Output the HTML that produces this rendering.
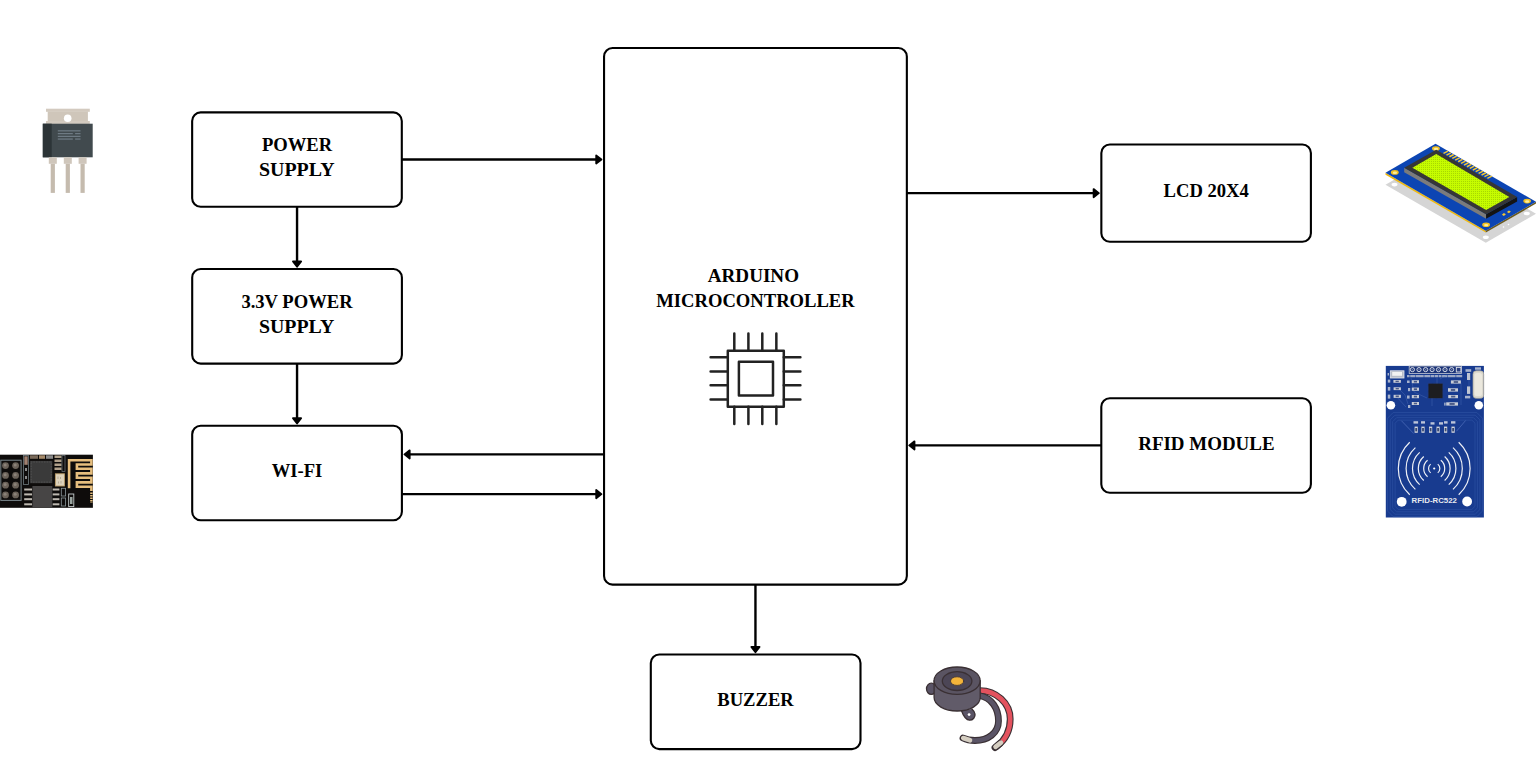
<!DOCTYPE html>
<html><head><meta charset="utf-8">
<style>
html,body{margin:0;padding:0;background:#fff;width:1536px;height:768px;overflow:hidden}
svg{display:block}
.t{font-family:"Liberation Serif",serif;font-weight:bold;font-size:18.6px;fill:#000;text-anchor:middle}
.b{fill:none;stroke:#000;stroke-width:2.1}
.l{stroke:#000;stroke-width:2.4;fill:none}
.ah{fill:#000;stroke:#000;stroke-width:1.8;stroke-linejoin:round}
</style></head><body>
<svg width="1536" height="768" viewBox="0 0 1536 768">
<defs><pattern id="lcdp" x="0" y="0" width="2" height="2" patternUnits="userSpaceOnUse"><rect width="2" height="2" fill="#c6fc00"/><rect x="1" y="1" width="1" height="1" fill="#a8d800"/></pattern></defs>
<!-- boxes -->
<rect class="b" x="192.15" y="112.4" width="209.65" height="94.40" rx="8.5"/>
<rect class="b" x="192.2" y="269.0" width="209.70" height="94.60" rx="8.5"/>
<rect class="b" x="192.2" y="425.75" width="209.70" height="94.45" rx="8.5"/>
<rect class="b" x="604.05" y="47.95" width="302.80" height="536.65" rx="8.5"/>
<rect class="b" x="1101.35" y="144.45" width="209.55" height="97.30" rx="8.5"/>
<rect class="b" x="1101.3" y="398.25" width="209.60" height="94.55" rx="8.5"/>
<rect class="b" x="650.8" y="654.55" width="209.70" height="94.55" rx="8.5"/>
<!-- text -->
<text class="t" x="297" y="150.8">POWER</text>
<text class="t" x="296.8" y="176.3" textLength="75.6" lengthAdjust="spacingAndGlyphs">SUPPLY</text>
<text class="t" x="297" y="307.5">3.3V POWER</text>
<text class="t" x="296.6" y="333.2" textLength="75.4" lengthAdjust="spacingAndGlyphs">SUPPLY</text>
<text class="t" x="297" y="477">WI-FI</text>
<text class="t" x="753.4" y="281.5" textLength="91.2" lengthAdjust="spacingAndGlyphs">ARDUINO</text>
<text class="t" x="755.5" y="307.3">MICROCONTROLLER</text>
<text class="t" x="1206.2" y="196.8">LCD 20X4</text>
<text class="t" x="1206.4" y="449.8" textLength="136.3" lengthAdjust="spacingAndGlyphs">RFID MODULE</text>
<text class="t" x="755.5" y="706">BUZZER</text>
<!-- arrows -->
<line class="l" x1="401.8" y1="159.45" x2="597.30" y2="159.45"/>
<path class="ah" d="M596.20,155.35 L601.46,159.45 L596.20,163.55 Z"/>
<line class="l" x1="297.05" y1="206.8" x2="297.05" y2="262.60"/>
<path class="ah" d="M292.95,261.50 L297.05,266.76 L301.15,261.50 Z"/>
<line class="l" x1="297.05" y1="363.6" x2="297.05" y2="419.30"/>
<path class="ah" d="M292.95,418.20 L297.05,423.46 L301.15,418.20 Z"/>
<line class="l" x1="604" y1="454.4" x2="408.60" y2="454.4"/>
<path class="ah" d="M409.70,450.30 L404.44,454.40 L409.70,458.50 Z"/>
<line class="l" x1="401.9" y1="494.1" x2="597.30" y2="494.1"/>
<path class="ah" d="M596.20,490.00 L601.46,494.10 L596.20,498.20 Z"/>
<line class="l" x1="906.85" y1="193.15" x2="1094.70" y2="193.15"/>
<path class="ah" d="M1093.60,189.05 L1098.86,193.15 L1093.60,197.25 Z"/>
<line class="l" x1="1101.3" y1="445.4" x2="913.40" y2="445.4"/>
<path class="ah" d="M914.50,441.30 L909.24,445.40 L914.50,449.50 Z"/>
<line class="l" x1="755.45" y1="584.6" x2="755.45" y2="648.10"/>
<path class="ah" d="M751.35,647.00 L755.45,652.26 L759.55,647.00 Z"/>
<!-- chip icon -->
<g stroke="#222" stroke-width="2.5" fill="none" stroke-linecap="round" stroke-linejoin="round">
<rect x="727.8" y="350.8" width="56" height="56"/>
<rect x="738.9" y="361.7" width="34.1" height="33.9"/>
<path d="M734.3,333.6V350.8M734.3,406.8V424M748.4,333.6V350.8M748.4,406.8V424M762.3,333.6V350.8M762.3,406.8V424M776.35,333.6V350.8M776.35,406.8V424M710.6,357.3H727.8M783.8,357.3H800.4M710.6,371.4H727.8M783.8,371.4H800.4M710.6,385.3H727.8M783.8,385.3H800.4M710.6,399.6H727.8M783.8,399.6H800.4"/>
</g>
<!-- TO-220 -->
<g>
<rect x="46" y="108.7" width="43.8" height="3.1" fill="#d3cabf"/>
<rect x="47.7" y="111.5" width="40.2" height="10" fill="#cfc6ba"/>
<rect x="46" y="121" width="43.8" height="2.9" fill="#d3cabf"/>
<circle cx="67.7" cy="118.2" r="3.8" fill="#fff"/>
<rect x="42.8" y="123.7" width="49.9" height="33.6" fill="#414a4e"/>
<rect x="42.8" y="123.7" width="8.9" height="33.6" fill="#2c3437"/>
<g fill="#74808a">
<rect x="57.8" y="130.3" width="22.7" height="1.1"/>
<rect x="57.8" y="133.1" width="15" height="1.1"/>
<rect x="75.1" y="133.1" width="5.4" height="1.1"/>
<rect x="57.8" y="135.8" width="22.7" height="1.1"/>
<rect x="57.8" y="138.5" width="15" height="1.1"/>
<rect x="75.1" y="138.5" width="5.4" height="1.1"/>
</g>
<g fill="#cfc6bb">
<rect x="48.8" y="157.3" width="8" height="6.5"/>
<rect x="63.8" y="157.3" width="8" height="6.5"/>
<rect x="78.6" y="157.3" width="8" height="6.5"/>
</g>
<g fill="#c5bbae">
<rect x="50.7" y="163.8" width="4.2" height="29.1"/>
<rect x="65.7" y="163.8" width="4.2" height="29.1"/>
<rect x="80.5" y="163.8" width="4.2" height="29.1"/>
</g>
</g>
<!-- ESP-01 -->
<g>
<rect x="0" y="454.7" width="92.9" height="53.1" fill="#0e0c0b"/>
<rect x="0.8" y="460.2" width="20.3" height="40.2" fill="none" stroke="#7a878c" stroke-width="1"/>
<g fill="#6b6259">
<circle cx="5.5" cy="465.6" r="3.4"/><circle cx="15.6" cy="465.6" r="3.4"/>
<circle cx="5.5" cy="475.4" r="3.4"/><circle cx="15.6" cy="475.4" r="3.4"/>
<circle cx="5.5" cy="485.2" r="3.4"/><circle cx="15.6" cy="485.2" r="3.4"/>
<circle cx="5.5" cy="494.9" r="3.4"/><circle cx="15.6" cy="494.9" r="3.4"/>
</g>
<g fill="#8a8178">
<circle cx="5.1" cy="465" r="1.5"/><circle cx="15.2" cy="465" r="1.5"/>
<circle cx="5.1" cy="474.8" r="1.5"/><circle cx="15.2" cy="474.8" r="1.5"/>
<circle cx="5.1" cy="484.6" r="1.5"/><circle cx="15.2" cy="484.6" r="1.5"/>
<circle cx="5.1" cy="494.3" r="1.5"/><circle cx="15.2" cy="494.3" r="1.5"/>
</g>
<rect x="23.5" y="455.5" width="5" height="29" fill="none" stroke="#6f7a7e" stroke-width="0.8"/>
<rect x="24.3" y="456.3" width="3.4" height="8.5" fill="#a08070"/>
<rect x="25" y="468" width="2" height="3" fill="#8a8a8a"/>
<rect x="25" y="476" width="2" height="3" fill="#8a8a8a"/>
<rect x="30" y="455.3" width="8" height="3.5" fill="#7a6a5a"/>
<rect x="39" y="455.3" width="6" height="3.5" fill="#a58a6a"/>
<rect x="46" y="455.3" width="7" height="3.5" fill="#8a8a8a"/>
<rect x="30.1" y="460.9" width="22.2" height="22.3" fill="#3a3a3a"/>
<rect x="31.2" y="462" width="20" height="20.1" fill="none" stroke="#6a6a6a" stroke-width="0.7" stroke-dasharray="0.7 0.9"/>
<rect x="32.4" y="486" width="19.9" height="21.4" fill="#474545"/>
<g fill="#bdb8b0">
<rect x="24.2" y="488.5" width="7.8" height="2"/><rect x="24.2" y="493.4" width="7.8" height="2"/>
<rect x="24.2" y="498.2" width="7.8" height="2"/><rect x="24.2" y="503.3" width="7.8" height="2"/>
<rect x="52.7" y="488.5" width="6.7" height="2"/><rect x="52.7" y="493.4" width="6.7" height="2"/>
<rect x="52.7" y="498.2" width="6.7" height="2"/><rect x="52.7" y="503.3" width="6.7" height="2"/>
</g>
<g fill="#b0a08a">
<rect x="54.5" y="455.5" width="7" height="2.5"/><rect x="54.5" y="459.5" width="7" height="2.5"/>
<rect x="54.5" y="463.5" width="7" height="2.5"/><rect x="54.5" y="467.5" width="7" height="2.5"/>
</g>
<rect x="62" y="455.5" width="3" height="16" fill="none" stroke="#6f7a7e" stroke-width="0.7"/>
<rect x="55.4" y="473.8" width="9" height="12.2" fill="#ddd2bb" stroke="#b89a66" stroke-width="0.9"/><path d="M58,476.5v2.5M60.5,477v2M58.5,481.5v2M61,481v2.5" stroke="#9a9080" stroke-width="0.6"/>
<rect x="61.3" y="488.3" width="4.3" height="7.7" fill="none" stroke="#8a969a" stroke-width="0.8"/>
<rect x="61.3" y="498" width="4.3" height="8" fill="none" stroke="#8a969a" stroke-width="0.8"/>
<rect x="68.7" y="494" width="5.1" height="12.6" fill="none" stroke="#c8cfcf" stroke-width="0.9"/>
<rect x="70" y="497" width="2.5" height="7" fill="#9aa5a0"/>
<path d="M69.1,488.3 V460.2 H91.4 V464.5 H76.9 V468.75 H91.4 V473.4 H76.9 V477.7 H91.4 V482.4 H76.9 V486.7 H91.4 V491" fill="none" stroke="#e6be7e" stroke-width="2.6"/>
<path d="M91.4,492.5 V503" fill="none" stroke="#e6be7e" stroke-width="2.4" stroke-dasharray="1.6 0.9"/>
</g>
<!-- LCD -->
<g>
<polygon points="1435.5,155.7 1536,213.7 1485.8,242.7 1385.5,184.8" fill="#d5d5d5"/>
<ellipse cx="1394.5" cy="184.6" rx="3" ry="1.8" fill="#fff"/>
<ellipse cx="1485.8" cy="237.2" rx="3" ry="1.8" fill="#fff"/>
<ellipse cx="1526.8" cy="213.5" rx="3" ry="1.8" fill="#fff"/>
<circle cx="1503.5" cy="227" r="0.8" fill="#fff"/><circle cx="1508.5" cy="224.5" r="0.8" fill="#fff"/>
<polygon points="1385.5,172.8 1485.8,230.7 1485.8,232.6 1385.5,174.7" fill="#efb90f"/>
<polygon points="1485.8,230.7 1536,201.7 1536,203.6 1485.8,232.6" fill="#6b5a1c"/>
<polygon points="1435.5,143.7 1536,201.7 1485.8,230.7 1385.5,172.8" fill="#0c45b3"/>
<ellipse cx="1435.9" cy="148.5" rx="3.9" ry="2.3" fill="#f2c020"/><ellipse cx="1436.0" cy="148.9" rx="2.1" ry="1.2" fill="#fbeea0"/><ellipse cx="1394.8" cy="172.4" rx="3.9" ry="2.3" fill="#f2c020"/><ellipse cx="1394.8999999999999" cy="172.8" rx="2.1" ry="1.2" fill="#fbeea0"/><ellipse cx="1486.1" cy="224.7" rx="3.9" ry="2.3" fill="#f2c020"/><ellipse cx="1486.1999999999998" cy="225.1" rx="2.1" ry="1.2" fill="#fbeea0"/><ellipse cx="1527.1" cy="201.1" rx="3.9" ry="2.3" fill="#f2c020"/><ellipse cx="1527.1999999999998" cy="201.5" rx="2.1" ry="1.2" fill="#fbeea0"/>
<path d="M1443.50,153.45L1447.90,151.15M1446.43,155.11L1450.83,152.81M1449.35,156.77L1453.75,154.47M1452.28,158.43L1456.68,156.13M1455.21,160.09L1459.61,157.79M1458.13,161.75L1462.53,159.45M1461.06,163.41L1465.46,161.11M1463.99,165.07L1468.39,162.77M1466.91,166.73L1471.31,164.43M1469.84,168.39L1474.24,166.09M1472.77,170.05L1477.17,167.75M1475.69,171.71L1480.09,169.41M1478.62,173.37L1483.02,171.07M1481.55,175.03L1485.95,172.73M1484.47,176.69L1488.87,174.39M1487.40,178.35L1491.80,176.05" stroke="#f3c632" stroke-width="1.5" fill="none"/>
<polygon points="1404.2,167.7 1486.1,214.2 1486.1,218.8 1404.2,172.3" fill="#7b7b7b"/>
<polygon points="1486.1,214.2 1517.1,196.9 1517.1,201.5 1486.1,218.8" fill="#141414"/>
<polygon points="1436.25,149.7 1517.1,196.9 1486.1,214.2 1404.2,167.7" fill="#363636"/>
<polygon points="1436.25,154 1509.3,196.9 1486.1,210.1 1412.4,167.7" fill="url(#lcdp)"/>
<polygon points="1503.9,213.1 1505.9,214.3 1503.9,215.9 1501.9,214.7" fill="#f3c632"/>
<polygon points="1508.9,210.4 1510.9,211.6 1508.9,213.2 1506.9,212" fill="#f3c632"/>
</g>
<!-- RFID -->
<g>
<rect x="1385.8" y="365.9" width="98.1" height="151.6" fill="#183b8f"/>
<path d="M1387.6,418.1L1393.1,412.6H1476.9L1482.4,418.1V511.1L1476.9,516.6H1393.1L1387.6,511.1ZM1390.2,419.9L1394.9,415.2H1475.2L1479.9,419.9V509.50000000000006L1475.2,514.2H1394.9L1390.2,509.50000000000006ZM1392.7,421.59999999999997L1396.6000000000001,417.7H1473.5L1477.4,421.59999999999997V507.90000000000003L1473.5,511.8H1396.6000000000001L1392.7,507.90000000000003ZM1395.1,423.20000000000005L1398.1999999999998,420.1H1471.9L1475,423.20000000000005V506.29999999999995L1471.9,509.4H1398.1999999999998L1395.1,506.29999999999995Z" fill="none" stroke="#3055a6" stroke-width="0.6"/>
<path d="M1401.4,420.7 L1413.7,433.5 M1456.5,431.2 L1465.6,420.5" stroke="#4a6ab8" stroke-width="0.8"/>
<g fill="#d8dce6" opacity="0.85">
<rect x="1413.5" y="421.2" width="4.6" height="2.4"/><rect x="1421" y="421.2" width="4" height="2.4"/><rect x="1430.5" y="422.2" width="4" height="2.4"/><rect x="1439" y="422.2" width="4" height="2.4"/><rect x="1444" y="421.2" width="3.6" height="2.4"/><rect x="1451" y="421.2" width="4.4" height="2.4"/>
</g>
<rect x="1409.2" y="366" width="52.4" height="7.5" fill="#1c3478" stroke="#c5cad4" stroke-width="0.8"/>
<circle cx="1412.4" cy="369.6" r="2.1" fill="#2a3f80" stroke="#dfe3ea" stroke-width="0.9"/><circle cx="1412.4" cy="369.6" r="0.6" fill="#8090b0"/><circle cx="1419.0" cy="369.6" r="2.1" fill="#2a3f80" stroke="#dfe3ea" stroke-width="0.9"/><circle cx="1419.0" cy="369.6" r="0.6" fill="#8090b0"/><circle cx="1425.6" cy="369.6" r="2.1" fill="#2a3f80" stroke="#dfe3ea" stroke-width="0.9"/><circle cx="1425.6" cy="369.6" r="0.6" fill="#8090b0"/><circle cx="1432.1" cy="369.6" r="2.1" fill="#2a3f80" stroke="#dfe3ea" stroke-width="0.9"/><circle cx="1432.1" cy="369.6" r="0.6" fill="#8090b0"/><circle cx="1438.5" cy="369.6" r="2.1" fill="#2a3f80" stroke="#dfe3ea" stroke-width="0.9"/><circle cx="1438.5" cy="369.6" r="0.6" fill="#8090b0"/><circle cx="1445.0" cy="369.6" r="2.1" fill="#2a3f80" stroke="#dfe3ea" stroke-width="0.9"/><circle cx="1445.0" cy="369.6" r="0.6" fill="#8090b0"/><circle cx="1451.6" cy="369.6" r="2.1" fill="#2a3f80" stroke="#dfe3ea" stroke-width="0.9"/><circle cx="1451.6" cy="369.6" r="0.6" fill="#8090b0"/>
<rect x="1456.3" y="367.4" width="4.6" height="4.6" fill="#2a3f80" stroke="#dfe3ea" stroke-width="0.9"/>
<path d="M1407,376.1 H1462.6" stroke="#c8cdd8" stroke-width="2.2" stroke-dasharray="2.6 0.6 5 0.5 8 0.6 6 0.5 3.2 0.5 3.8 0.6" opacity="0.75"/>
<path d="M1411,378 L1414,392 L1427,398 M1437,378 V384 M1440,379 L1447,375 M1398,388 L1405,395 L1408,404 M1395,395 L1406,407 M1432,398 V406 M1461,383 V405 M1469,380 V386" stroke="#5a78c0" stroke-width="0.5" fill="none" opacity="0.7"/>
<rect x="1428.4" y="383.6" width="14.2" height="14.6" fill="#1d1d20"/>
<rect x="1428" y="383.2" width="15" height="15.4" fill="none" stroke="#3a4470" stroke-width="0.5" stroke-dasharray="0.5 0.7"/>
<rect x="1473" y="370.8" width="10.7" height="27.5" rx="3.4" fill="#dcd9ce" stroke="#a6a398" stroke-width="0.7"/>
<rect x="1474.5" y="373" width="7.5" height="23" rx="2.6" fill="#ebe8de"/>
<rect x="1390.3" y="370.8" width="13.7" height="7.2" fill="#b8bdc8" stroke="#e6e8ee" stroke-width="0.8"/>
<rect x="1392.2" y="372" width="9.8" height="3.8" fill="#f2f2f2"/>
<rect x="1467" y="373" width="3.2" height="7" fill="#c0c6d2"/><rect x="1467" y="386.4" width="3.2" height="7.5" fill="#c0c6d2"/>
<rect x="1393.4" y="380" width="7.50" height="2.80" fill="#c8ccd6"/><rect x="1395.50" y="380.70" width="3.30" height="1.40" fill="#4a5a88"/><rect x="1393.6" y="387.3" width="7.30" height="2.80" fill="#c8ccd6"/><rect x="1395.64" y="388.00" width="3.21" height="1.40" fill="#4a5a88"/><rect x="1393.6" y="394.8" width="7.30" height="3.10" fill="#c8ccd6"/><rect x="1395.64" y="395.50" width="3.21" height="1.70" fill="#4a5a88"/><rect x="1411.8" y="380.2" width="7.20" height="3.00" fill="#c8ccd6"/><rect x="1413.82" y="380.90" width="3.17" height="1.60" fill="#4a5a88"/><rect x="1411.8" y="387.6" width="7.20" height="3.20" fill="#c8ccd6"/><rect x="1413.82" y="388.30" width="3.17" height="1.80" fill="#4a5a88"/><rect x="1411.8" y="395" width="7.20" height="3.20" fill="#c8ccd6"/><rect x="1413.82" y="395.70" width="3.17" height="1.80" fill="#4a5a88"/><rect x="1411.8" y="402" width="7.20" height="3.00" fill="#c8ccd6"/><rect x="1413.82" y="402.70" width="3.17" height="1.60" fill="#4a5a88"/><rect x="1450.9" y="380.4" width="10.00" height="3.20" fill="#c8ccd6"/><rect x="1453.70" y="381.10" width="4.40" height="1.80" fill="#4a5a88"/><rect x="1448" y="388.3" width="10.00" height="3.30" fill="#c8ccd6"/><rect x="1450.80" y="389.00" width="4.40" height="1.90" fill="#4a5a88"/><rect x="1448.4" y="395" width="9.60" height="3.20" fill="#c8ccd6"/><rect x="1451.09" y="395.70" width="4.22" height="1.80" fill="#4a5a88"/><rect x="1446.2" y="402.3" width="11.80" height="3.30" fill="#c8ccd6"/><rect x="1449.50" y="403.00" width="5.19" height="1.90" fill="#4a5a88"/>
<rect x="1387.8" y="379.6" width="2.50" height="3.00" fill="#cdd2dc" opacity="0.8"/><rect x="1387.8" y="387" width="2.50" height="3.60" fill="#cdd2dc" opacity="0.8"/><rect x="1387.8" y="394.6" width="2.50" height="4.00" fill="#cdd2dc" opacity="0.8"/><rect x="1387.6" y="373" width="1.40" height="2.50" fill="#cdd2dc" opacity="0.8"/><rect x="1407" y="380.5" width="2.60" height="2.50" fill="#cdd2dc" opacity="0.8"/><rect x="1408" y="388" width="2.20" height="3.20" fill="#cdd2dc" opacity="0.8"/><rect x="1407" y="395.5" width="2.60" height="3.10" fill="#cdd2dc" opacity="0.8"/><rect x="1408" y="405" width="2.30" height="3.00" fill="#cdd2dc" opacity="0.8"/><rect x="1465.5" y="369.2" width="5.70" height="2.60" fill="#cdd2dc" opacity="0.8"/><rect x="1475" y="367.3" width="6.00" height="2.40" fill="#cdd2dc" opacity="0.8"/><rect x="1465" y="395.8" width="5.20" height="2.60" fill="#cdd2dc" opacity="0.8"/><rect x="1444.2" y="402.6" width="1.40" height="3.00" fill="#cdd2dc" opacity="0.8"/><rect x="1448" y="388.5" width="2.40" height="2.90" fill="#cdd2dc" opacity="0.8"/><rect x="1448.4" y="395.2" width="1.80" height="2.80" fill="#cdd2dc" opacity="0.8"/>
<circle cx="1390.9" cy="405.3" r="4.3" fill="#fff"/>
<circle cx="1478.8" cy="405.3" r="4.3" fill="#fff"/>
<rect x="1414.6" y="426.6" width="3.2" height="6.2" fill="#d0d4dc"/><rect x="1415.3" y="428" width="1.8" height="3.4" fill="#3a4a70"/><rect x="1421.4" y="426.6" width="3.2" height="6.2" fill="#d0d4dc"/><rect x="1422.1" y="428" width="1.8" height="3.4" fill="#3a4a70"/><rect x="1429.0" y="426.6" width="3.2" height="6.2" fill="#d0d4dc"/><rect x="1429.7" y="428" width="1.8" height="3.4" fill="#3a4a70"/><rect x="1436.5" y="426.6" width="3.2" height="6.2" fill="#d0d4dc"/><rect x="1437.2" y="428" width="1.8" height="3.4" fill="#3a4a70"/><rect x="1444.0" y="426.6" width="3.2" height="6.2" fill="#d0d4dc"/><rect x="1444.7" y="428" width="1.8" height="3.4" fill="#3a4a70"/><rect x="1451.5" y="426.6" width="3.2" height="6.2" fill="#d0d4dc"/><rect x="1452.2" y="428" width="1.8" height="3.4" fill="#3a4a70"/>
<path d="M1437.76,464.10A5.66,5.66 0 0 1 1437.76,472.90M1430.64,464.10A5.66,5.66 0 0 0 1430.64,472.90M1440.81,460.34A10.5,10.5 0 0 1 1440.81,476.66M1427.59,460.34A10.5,10.5 0 0 0 1427.59,476.66M1444.63,456.50A15.9,15.9 0 0 1 1444.63,480.50M1423.77,456.50A15.9,15.9 0 0 0 1423.77,480.50M1448.72,452.37A21.7,21.7 0 0 1 1448.72,484.63M1419.68,452.37A21.7,21.7 0 0 0 1419.68,484.63M1453.00,447.62A28.1,28.1 0 0 1 1453.00,489.38M1415.40,447.62A28.1,28.1 0 0 0 1415.40,489.38M1458.68,442.24A35.9,35.9 0 0 1 1458.68,494.76M1409.72,442.24A35.9,35.9 0 0 0 1409.72,494.76" fill="none" stroke="#eef0f6" stroke-width="1.2"/>
<circle cx="1434.2" cy="468.5" r="1.1" fill="#fff"/>
<circle cx="1401.7" cy="501.8" r="4.9" fill="#fff"/>
<circle cx="1467.1" cy="501.5" r="4.9" fill="#fff"/>
<text x="1411.6" y="502.9" textLength="45.3" lengthAdjust="spacingAndGlyphs" font-family="Liberation Sans" font-weight="bold" font-size="7.4" fill="#e8eaf0">RFID-RC522</text>
</g>
<!-- buzzer -->
<g stroke="#3a3034" stroke-linejoin="round" stroke-linecap="round">
<path d="M980,690.6 C996,690.6 1010.2,703 1010.2,719 C1010.2,732 1004,741 996.5,746.5" fill="none" stroke-width="6.8"/>
<path d="M980,690.6 C996,690.6 1010.2,703 1010.2,719 C1010.2,732 1004,741 996.5,746.5" fill="none" stroke="#e3525e" stroke-width="4.6" stroke-linecap="butt"/>
<path d="M999.8,743.6 L995,747.6" fill="none" stroke-width="6.8"/>
<path d="M1001,742.6 L995.5,746.8" fill="none" stroke="#d5cec1" stroke-width="4.6" stroke-linecap="round"/>
<path d="M979,695.5 C992,697.5 998.5,709 998.5,721 C998.5,733 988,740.5 975,740.5 C970,740.5 966,739.5 963,738" fill="none" stroke-width="6.8"/>
<path d="M979,695.5 C992,697.5 998.5,709 998.5,721 C998.5,733 988,740.5 975,740.5 C970,740.5 966,739.5 963,738" fill="none" stroke="#5a5466" stroke-width="4.6" stroke-linecap="butt"/>
<path d="M970,740.3 L963.2,738" fill="none" stroke="#d5cec1" stroke-width="4.6"/>
<path d="M961.4,710.5 C963,715 966,720 969.6,720.2 C973,720.3 975.5,717 975,714 C974.7,712 973.5,710.5 971.9,709" fill="#5a5466" stroke-width="1.3"/>
<circle cx="969.1" cy="714.6" r="1.4" fill="#fff" stroke="none"/>
<ellipse cx="931.3" cy="688.8" rx="4.8" ry="5.6" fill="#5a5466" stroke-width="1.3"/>
<path d="M934.1,680.7 V697.6 A23.05,13.4 0 0 0 980.2,697.6 V680.7 Z" fill="#615b69" stroke-width="1.3"/>
<ellipse cx="957.1" cy="680.7" rx="23.05" ry="13.7" fill="#5a5462" stroke-width="1.3"/>
<ellipse cx="957.1" cy="681.1" rx="14.8" ry="9.4" fill="#4c4656" stroke-width="1.3"/>
<ellipse cx="957.1" cy="681.1" rx="6.6" ry="4.3" fill="#f4b43a" stroke-width="0.8"/>
</g>
</svg>
</body></html>
